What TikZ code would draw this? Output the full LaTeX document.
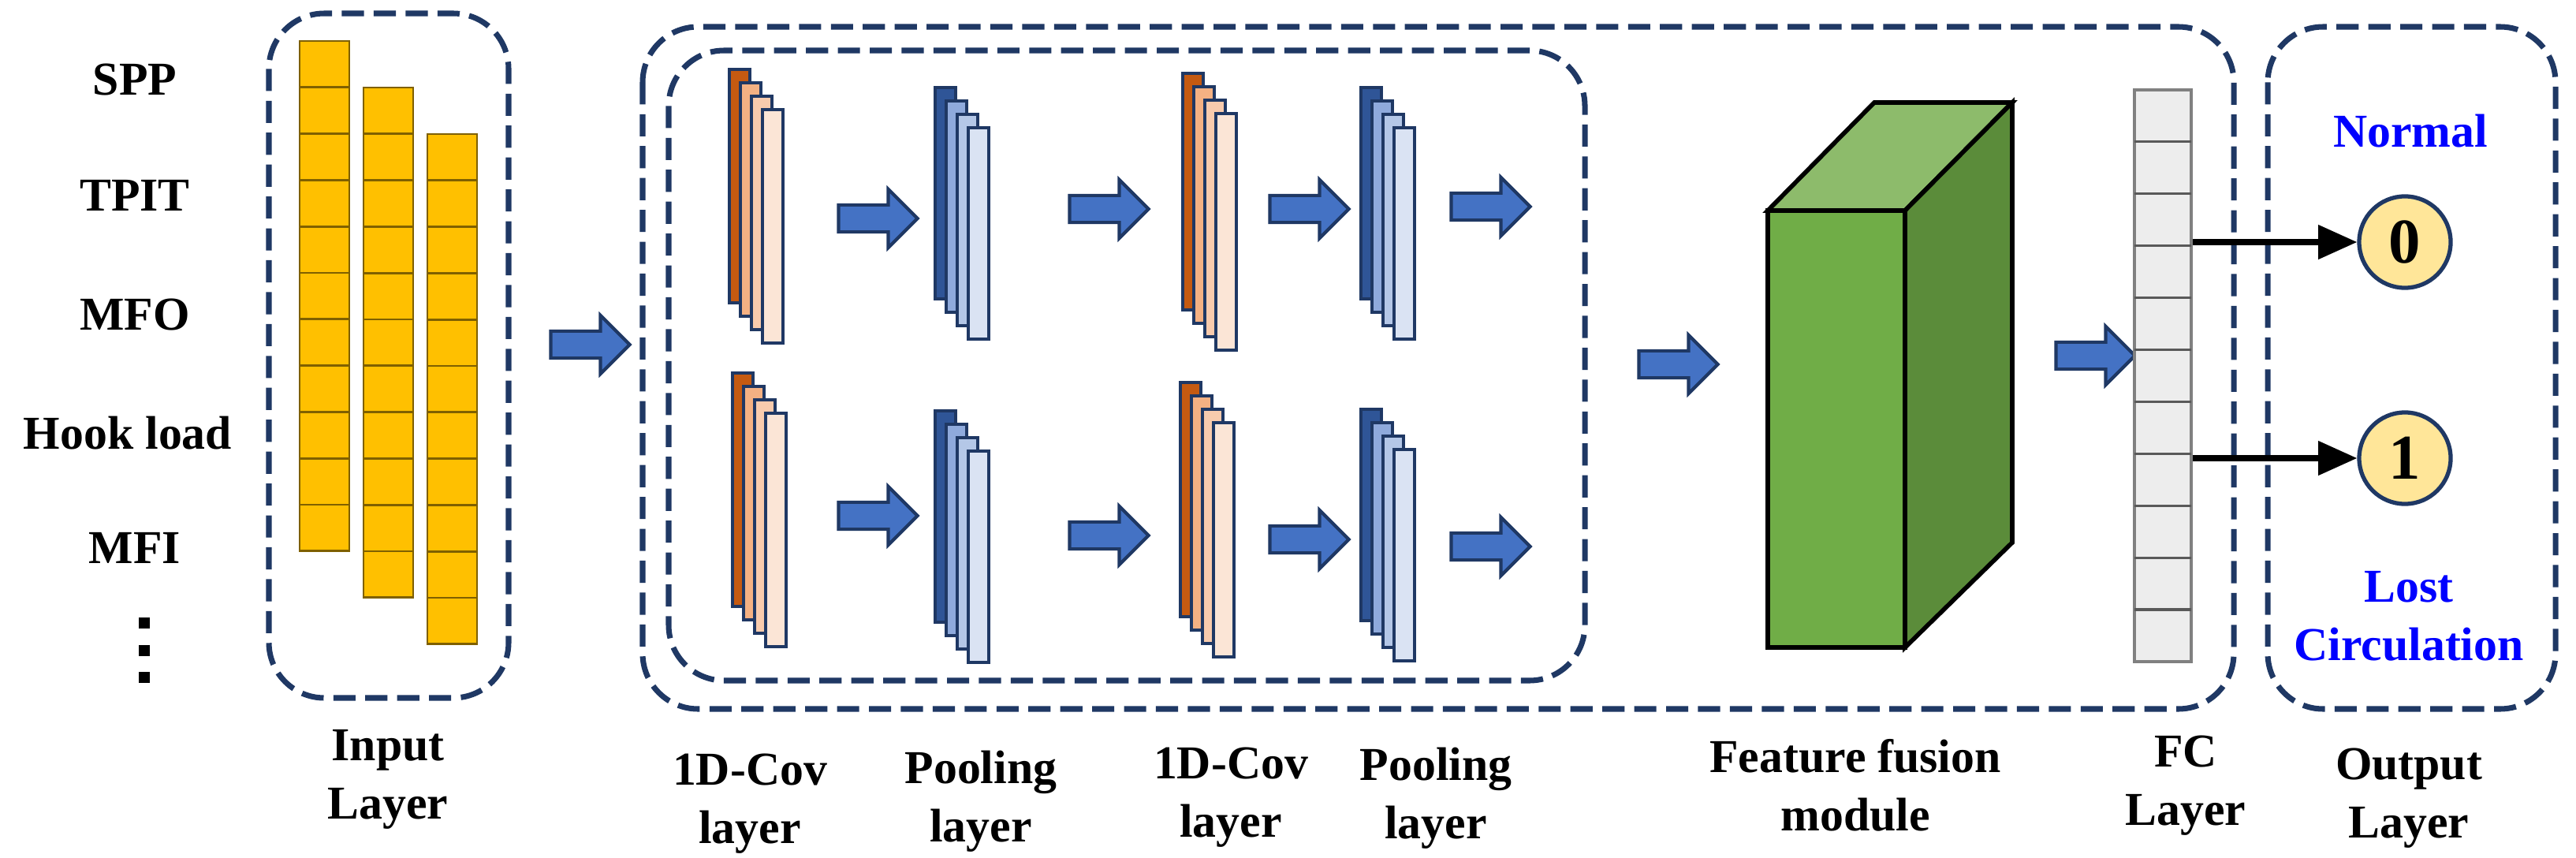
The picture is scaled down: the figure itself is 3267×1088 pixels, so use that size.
\documentclass[tikz,border=0pt]{standalone}
\usepackage{fontspec}
\setmainfont{Liberation Serif}
\usetikzlibrary{positioning,shapes.arrows,arrows.meta}
\definecolor{navy}{HTML}{1F3864}
\definecolor{arrowblue}{HTML}{4472C4}
\definecolor{inyellow}{HTML}{FFC000}
\definecolor{inedge}{HTML}{7F6000}
\definecolor{convA}{HTML}{C55A11}
\definecolor{convB}{HTML}{F4B183}
\definecolor{convC}{HTML}{F8CBAD}
\definecolor{convD}{HTML}{FBE5D6}
\definecolor{poolA}{HTML}{2F5597}
\definecolor{poolB}{HTML}{8FAADC}
\definecolor{poolC}{HTML}{B4C7E7}
\definecolor{poolD}{HTML}{DAE3F3}
\definecolor{fuseFront}{HTML}{70AD47}
\definecolor{fuseTop}{HTML}{8DBB6B}
\definecolor{fuseSide}{HTML}{5B8C3A}
\definecolor{fcgray}{HTML}{EDEDED}
\definecolor{outyellow}{HTML}{FFE699}
\tikzset{
  frame/.style={draw=navy, line width=2pt, dash pattern=on 8pt off 3.5pt, rounded corners=20pt},
  lbl/.style={font=\fontsize{17}{21}\selectfont\bfseries, align=center},
  blk/.style={single arrow, draw=navy, fill=arrowblue, line width=1.2pt, minimum height=1cm,
    single arrow head extend=0.2cm, inner sep=0pt},
  outnode/.style={circle, draw=navy, fill=outyellow, line width=1.5pt, minimum size=1.16cm,
    inner sep=0pt, font=\fontsize{23}{23}\selectfont\bfseries}
}
\newcommand{\shaft}{\rule{0pt}{0.3cm}}
% feature map stack: name, x, y, height, colours
\newcommand{\fmap}[5]{%
  \foreach \c [count=\i from 0] in {#5}
    \draw[fill=\c, draw=navy, line width=1.1pt] ({#2+14*\i},{#3+17*\i}) rectangle ++(26,#4);
  \coordinate (#1) at (#2,#3);}
\begin{document}
\begin{tikzpicture}[x=0.01cm, y=-0.01cm]
\useasboundingbox (0,0) rectangle (3267,1088);

% input variables
\node[lbl] (vSPP) at (171,101) {SPP};
\node[lbl] (vTPIT) at (171,248) {TPIT};
\node[lbl] (vMFO) at (171,399) {MFO};
\node[lbl] (vHook) at (162,549) {Hook load};
\node[lbl] (vMFI) at (171,695) {MFI};
\foreach \y in {790,825,859}
  \fill (176,\y-7) rectangle ++(14,14);

% frames
\draw[frame] (341,17) rectangle (645,885);
\draw[frame] (815,34) rectangle (2833,899);
\draw[frame] (848,64) rectangle (2010,863);
\draw[frame] (2876,34) rectangle (3241,899);

% input layer
\foreach \col in {0,1,2}
  \foreach \row in {0,...,10}
    \draw[fill=inyellow, draw=inedge, line width=0.8pt]
      ({380+81*\col},{52+59*\col+58.8*\row}) rectangle ++(63,58.8);

% conv / pooling branches
\fmap{convTa}{925}{88}{296}{convA,convB,convC,convD}
\fmap{convBa}{929}{473}{296}{convA,convB,convC,convD}
\fmap{poolTa}{1186}{111}{268}{poolA,poolB,poolC,poolD}
\fmap{poolBa}{1186}{521}{268}{poolA,poolB,poolC,poolD}
\fmap{convTb}{1500}{93}{300}{convA,convB,convC,convD}
\fmap{convBb}{1497}{485}{297}{convA,convB,convC,convD}
\fmap{poolTb}{1726}{111}{268}{poolA,poolB,poolC,poolD}
\fmap{poolBb}{1726}{519}{268}{poolA,poolB,poolC,poolD}

% block arrows
\node[blk] (aIn) at (740,437) {\shaft};
\node[blk] (aT1) at (1105,277) {\shaft};
\node[blk] (aT2) at (1398,265) {\shaft};
\node[blk] (aT3) at (1652,265) {\shaft};
\node[blk] (aT4) at (1882,262) {\shaft};
\node[blk] (aB1) at (1105,654) {\shaft};
\node[blk] (aB2) at (1398,679) {\shaft};
\node[blk] (aB3) at (1652,684) {\shaft};
\node[blk] (aB4) at (1882,693) {\shaft};
\node[blk] (aFuse) at (2120,462) {\shaft};
\node[blk] (aFC) at (2649,451) {\shaft};

% feature fusion module
\draw[fill=fuseTop, line width=1.6pt] (2242,267) -- (2377,130) -- (2552,130) -- (2416,267) -- cycle;
\draw[fill=fuseSide, line width=1.6pt] (2416,267) -- (2552,130) -- (2552,688) -- (2416,821) -- cycle;
\draw[fill=fuseFront, line width=1.6pt] (2242,267) rectangle (2416,821);

% FC layer
\node[draw=gray, fill=fcgray, line width=1pt, inner sep=0pt, minimum width=0.72cm,
  minimum height=7.25cm] (fc) at (2743,476.5) {};
\foreach \k in {1,...,10}
  \draw[gray!70!black, line width=0.9pt] (2707,{114+65.9*\k}) -- (2779,{114+65.9*\k});

% outputs
\node[outnode] (o0) at (3050,307) {0};
\node[outnode] (o1) at (3050,581) {1};
\node[lbl, text=blue] (tNormal) at (3057,166) {Normal};
\node[lbl, text=blue] (tLost) at (3055,781) {Lost\\Circulation};
\draw[line width=2pt, -{Triangle[length=14pt,width=12pt]}] (fc.east |- o0) -- (o0.west);
\draw[line width=2pt, -{Triangle[length=14pt,width=12pt]}] (fc.east |- o1) -- (o1.west);

% captions
\node[lbl] (cIn) at (492,988) {Input\\Layer};
\node[lbl] (cConv1) at (951,1019) {1D-Cov\\layer};
\node[lbl] (cPool1) at (1244,1016) {Pooling\\layer};
\node[lbl] (cConv2) at (1561,1011) {1D-Cov\\layer};
\node[lbl] (cPool2) at (1821,1012) {Pooling\\layer};
\node[lbl] (cFuse) at (2353,996) {Feature fusion\\module};
\node[lbl] (cFC) at (2772,996) {FC\\Layer};
\node[lbl] (cOut) at (3055,1012) {Output\\Layer};
\end{tikzpicture}
\end{document}
